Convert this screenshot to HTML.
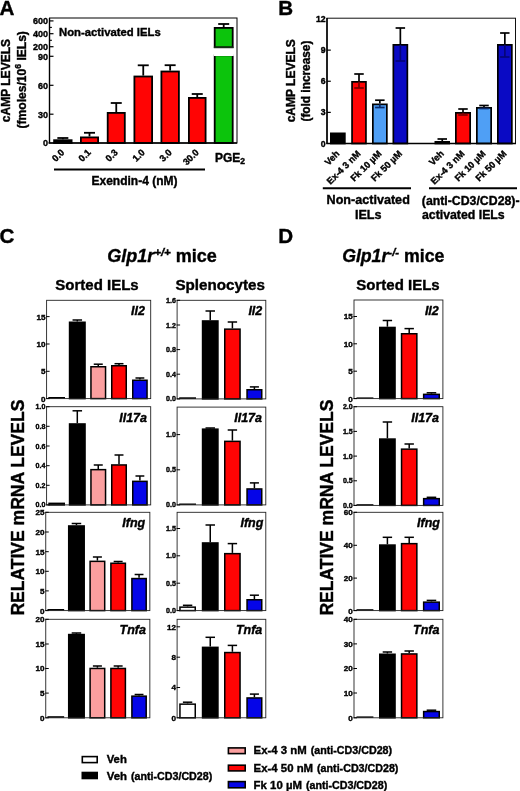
<!DOCTYPE html>
<html><head><meta charset="utf-8"><title>Figure</title>
<style>
html,body{margin:0;padding:0;background:#fff;}
body{width:520px;height:791px;overflow:hidden;}
svg{display:block;}
svg text{font-family:"Liberation Sans",sans-serif;font-weight:bold;fill:#000;stroke:#000;stroke-width:0.38px;}
</style></head><body>
<svg width="520" height="791" viewBox="0 0 520 791">
<rect width="520" height="791" fill="#fff"/>
<text x="-0.4" y="14.5" font-size="20.6" text-anchor="start" >A</text>
<line x1="62.85" y1="138" x2="62.85" y2="139.3" stroke="#000" stroke-width="1.8"/>
<line x1="57.35" y1="138" x2="68.35" y2="138" stroke="#000" stroke-width="1.8"/>
<rect x="54.10" y="140.20" width="17.50" height="2.80" fill="#000" stroke="#000" stroke-width="1.8"/>
<line x1="89.5" y1="132.8" x2="89.5" y2="136.5" stroke="#000" stroke-width="1.8"/>
<line x1="84.0" y1="132.8" x2="95.0" y2="132.8" stroke="#000" stroke-width="1.8"/>
<rect x="80.90" y="137.40" width="17.20" height="5.60" fill="#ff0404" stroke="#000" stroke-width="1.8"/>
<line x1="116.25" y1="103" x2="116.25" y2="112" stroke="#000" stroke-width="1.8"/>
<line x1="110.75" y1="103" x2="121.75" y2="103" stroke="#000" stroke-width="1.8"/>
<rect x="107.70" y="112.90" width="17.10" height="30.10" fill="#ff0404" stroke="#000" stroke-width="1.8"/>
<line x1="143.25" y1="65.3" x2="143.25" y2="75.6" stroke="#000" stroke-width="1.8"/>
<line x1="137.75" y1="65.3" x2="148.75" y2="65.3" stroke="#000" stroke-width="1.8"/>
<rect x="134.40" y="76.50" width="17.70" height="66.50" fill="#ff0404" stroke="#000" stroke-width="1.8"/>
<line x1="170.15" y1="65.2" x2="170.15" y2="70.6" stroke="#000" stroke-width="1.8"/>
<line x1="164.65" y1="65.2" x2="175.65" y2="65.2" stroke="#000" stroke-width="1.8"/>
<rect x="161.40" y="71.50" width="17.50" height="71.50" fill="#ff0404" stroke="#000" stroke-width="1.8"/>
<line x1="197.25" y1="94" x2="197.25" y2="97" stroke="#000" stroke-width="1.8"/>
<line x1="191.75" y1="94" x2="202.75" y2="94" stroke="#000" stroke-width="1.8"/>
<rect x="188.90" y="97.90" width="16.70" height="45.10" fill="#ff0404" stroke="#000" stroke-width="1.8"/>
<rect x="214.70" y="55.40" width="18.00" height="87.60" fill="#0cc40c" stroke="#000" stroke-width="1.8"/>
<rect x="215.60" y="54.00" width="16.20" height="2.50" fill="#0cc40c" stroke="none" stroke-width="0"/>
<rect x="213.80" y="50.00" width="20.00" height="6.00" fill="#fff" stroke="none" stroke-width="0"/>
<line x1="223.7" y1="24" x2="223.7" y2="27" stroke="#000" stroke-width="1.8"/>
<line x1="218.2" y1="24" x2="229.2" y2="24" stroke="#000" stroke-width="1.8"/>
<rect x="214.70" y="27.90" width="18.00" height="19.40" fill="#0cc40c" stroke="#000" stroke-width="1.8"/>
<rect x="213.80" y="46.60" width="19.80" height="1.20" fill="#1a3a1a" stroke="none" stroke-width="0"/>
<rect x="49.5" y="18" width="187.5" height="125" fill="none" stroke="#000" stroke-width="1"/>
<line x1="48.5" y1="143" x2="237" y2="143" stroke="#000" stroke-width="1.6"/>
<line x1="49.5" y1="18" x2="49.5" y2="143" stroke="#000" stroke-width="1.4"/>
<line x1="49.5" y1="20.9" x2="53.5" y2="20.9" stroke="#000" stroke-width="1.2"/>
<text x="48.0" y="24.2" font-size="9" text-anchor="end" >600</text>
<line x1="49.5" y1="33.7" x2="53.5" y2="33.7" stroke="#000" stroke-width="1.2"/>
<text x="48.0" y="37.0" font-size="9" text-anchor="end" >400</text>
<line x1="49.5" y1="46.7" x2="53.5" y2="46.7" stroke="#000" stroke-width="1.2"/>
<text x="48.0" y="50.0" font-size="9" text-anchor="end" >200</text>
<line x1="49.5" y1="56.3" x2="53.5" y2="56.3" stroke="#000" stroke-width="1.2"/>
<text x="48.0" y="59.599999999999994" font-size="9" text-anchor="end" >90</text>
<line x1="49.5" y1="85.3" x2="53.5" y2="85.3" stroke="#000" stroke-width="1.2"/>
<text x="48.0" y="88.6" font-size="9" text-anchor="end" >60</text>
<line x1="49.5" y1="114.2" x2="53.5" y2="114.2" stroke="#000" stroke-width="1.2"/>
<text x="48.0" y="117.5" font-size="9" text-anchor="end" >30</text>
<text x="48.0" y="146.3" font-size="9" text-anchor="end" >0</text>
<line x1="49.5" y1="27.4" x2="51.9" y2="27.4" stroke="#000" stroke-width="1.1"/>
<line x1="49.5" y1="40.3" x2="51.9" y2="40.3" stroke="#000" stroke-width="1.1"/>
<text x="59" y="35.9" font-size="11.3" text-anchor="start" >Non-activated IELs</text>
<text x="65" y="153" font-size="9.3" text-anchor="end" transform="rotate(-45 65 153)" >0.0</text>
<text x="91.5" y="153" font-size="9.3" text-anchor="end" transform="rotate(-45 91.5 153)" >0.1</text>
<text x="118.5" y="153" font-size="9.3" text-anchor="end" transform="rotate(-45 118.5 153)" >0.3</text>
<text x="145.5" y="153" font-size="9.3" text-anchor="end" transform="rotate(-45 145.5 153)" >1.0</text>
<text x="172.5" y="153" font-size="9.3" text-anchor="end" transform="rotate(-45 172.5 153)" >3.0</text>
<text x="199.5" y="153" font-size="9.3" text-anchor="end" transform="rotate(-45 199.5 153)" >30.0</text>
<line x1="54" y1="169.5" x2="205" y2="169.5" stroke="#000" stroke-width="2"/>
<text x="134.5" y="185" font-size="12" text-anchor="middle" >Exendin-4 (nM)</text>
<text x="215" y="161.5" font-size="12">PGE<tspan font-size="8.5" dy="2.5">2</tspan></text>
<text font-size="12" text-anchor="middle" transform="translate(9.6,80.6) rotate(-90)">cAMP LEVELS</text>
<text font-size="12.05" text-anchor="middle" transform="translate(26.3,79.8) rotate(-90)">(fmoles/10<tspan font-size="8.8" dy="-5.3">6</tspan><tspan dy="5.3"> IELs)</tspan></text>
<text x="278.3" y="14.6" font-size="20.6" text-anchor="start" >B</text>
<rect x="330.85" y="133.35" width="14.00" height="10.15" fill="#000" stroke="#000" stroke-width="1.7"/>
<line x1="359.0" y1="74" x2="359.0" y2="81" stroke="#000" stroke-width="1.7"/>
<line x1="354.25" y1="74" x2="363.75" y2="74" stroke="#000" stroke-width="1.7"/>
<rect x="352.05" y="81.85" width="13.90" height="61.65" fill="#ff0404" stroke="#000" stroke-width="1.7"/>
<line x1="359.0" y1="81.85" x2="359.0" y2="88" stroke="#7a0000" stroke-width="1.7"/>
<line x1="354.25" y1="88" x2="363.75" y2="88" stroke="#7a0000" stroke-width="1.7"/>
<line x1="379.85" y1="100.2" x2="379.85" y2="103.5" stroke="#000" stroke-width="1.7"/>
<line x1="375.1" y1="100.2" x2="384.6" y2="100.2" stroke="#000" stroke-width="1.7"/>
<rect x="372.85" y="104.35" width="14.00" height="39.15" fill="#4f9ff5" stroke="#000" stroke-width="1.7"/>
<line x1="379.85" y1="104.35" x2="379.85" y2="107.5" stroke="#0a2a6a" stroke-width="1.7"/>
<line x1="375.1" y1="107.5" x2="384.6" y2="107.5" stroke="#0a2a6a" stroke-width="1.7"/>
<line x1="400.35" y1="28" x2="400.35" y2="44" stroke="#000" stroke-width="1.7"/>
<line x1="395.6" y1="28" x2="405.1" y2="28" stroke="#000" stroke-width="1.7"/>
<rect x="393.35" y="44.85" width="14.00" height="98.65" fill="#0a0ac4" stroke="#000" stroke-width="1.7"/>
<line x1="400.35" y1="44.85" x2="400.35" y2="61" stroke="#05057a" stroke-width="1.7"/>
<line x1="395.6" y1="61" x2="405.1" y2="61" stroke="#05057a" stroke-width="1.7"/>
<line x1="442.25" y1="139" x2="442.25" y2="141" stroke="#000" stroke-width="1.7"/>
<line x1="437.5" y1="139" x2="447.0" y2="139" stroke="#000" stroke-width="1.7"/>
<rect x="435.35" y="141.85" width="13.80" height="1.65" fill="#000" stroke="#000" stroke-width="1.7"/>
<line x1="463.0" y1="109" x2="463.0" y2="112" stroke="#000" stroke-width="1.7"/>
<line x1="458.25" y1="109" x2="467.75" y2="109" stroke="#000" stroke-width="1.7"/>
<rect x="455.85" y="112.85" width="14.30" height="30.65" fill="#ff0404" stroke="#000" stroke-width="1.7"/>
<line x1="463.0" y1="112.85" x2="463.0" y2="115" stroke="#7a0000" stroke-width="1.7"/>
<line x1="458.25" y1="115" x2="467.75" y2="115" stroke="#7a0000" stroke-width="1.7"/>
<line x1="484.0" y1="105.5" x2="484.0" y2="107" stroke="#000" stroke-width="1.7"/>
<line x1="479.25" y1="105.5" x2="488.75" y2="105.5" stroke="#000" stroke-width="1.7"/>
<rect x="476.85" y="107.85" width="14.30" height="35.65" fill="#4f9ff5" stroke="#000" stroke-width="1.7"/>
<line x1="484.0" y1="107.85" x2="484.0" y2="108.5" stroke="#0a2a6a" stroke-width="1.7"/>
<line x1="479.25" y1="108.5" x2="488.75" y2="108.5" stroke="#0a2a6a" stroke-width="1.7"/>
<line x1="504.85" y1="33" x2="504.85" y2="44" stroke="#000" stroke-width="1.7"/>
<line x1="500.1" y1="33" x2="509.6" y2="33" stroke="#000" stroke-width="1.7"/>
<rect x="497.85" y="44.85" width="14.00" height="98.65" fill="#0a0ac4" stroke="#000" stroke-width="1.7"/>
<line x1="504.85" y1="44.85" x2="504.85" y2="57" stroke="#05057a" stroke-width="1.7"/>
<line x1="500.1" y1="57" x2="509.6" y2="57" stroke="#05057a" stroke-width="1.7"/>
<rect x="327" y="18.2" width="188.5" height="125.3" fill="none" stroke="#111" stroke-width="1"/>
<line x1="327" y1="18" x2="327" y2="143.5" stroke="#000" stroke-width="1.5"/>
<line x1="326.3" y1="143.5" x2="516" y2="143.5" stroke="#000" stroke-width="1.7"/>
<text x="325.6" y="146.6" font-size="8.7" text-anchor="end" >0</text>
<line x1="327" y1="112.375" x2="330.8" y2="112.375" stroke="#000" stroke-width="1.2"/>
<text x="325.6" y="115.475" font-size="8.7" text-anchor="end" >3</text>
<line x1="327" y1="81.25" x2="330.8" y2="81.25" stroke="#000" stroke-width="1.2"/>
<text x="325.6" y="84.35" font-size="8.7" text-anchor="end" >6</text>
<line x1="327" y1="50.125" x2="330.8" y2="50.125" stroke="#000" stroke-width="1.2"/>
<text x="325.6" y="53.225" font-size="8.7" text-anchor="end" >9</text>
<text x="325.6" y="22.1" font-size="8.7" text-anchor="end" >12</text>
<text x="340.15000000000003" y="154.2" font-size="9.3" text-anchor="end" transform="rotate(-45 340.15000000000003 154.2)" >Veh</text>
<text x="361.3" y="154.2" font-size="9.3" text-anchor="end" transform="rotate(-45 361.3 154.2)" >Ex-4 3 nM</text>
<text x="382.15000000000003" y="154.2" font-size="9.3" text-anchor="end" transform="rotate(-45 382.15000000000003 154.2)" >Fk 10 µM</text>
<text x="402.65000000000003" y="154.2" font-size="9.3" text-anchor="end" transform="rotate(-45 402.65000000000003 154.2)" >Fk 50 µM</text>
<text x="444.55" y="154.2" font-size="9.3" text-anchor="end" transform="rotate(-45 444.55 154.2)" >Veh</text>
<text x="465.3" y="154.2" font-size="9.3" text-anchor="end" transform="rotate(-45 465.3 154.2)" >Ex-4 3 nM</text>
<text x="486.3" y="154.2" font-size="9.3" text-anchor="end" transform="rotate(-45 486.3 154.2)" >Fk 10 µM</text>
<text x="507.15000000000003" y="154.2" font-size="9.3" text-anchor="end" transform="rotate(-45 507.15000000000003 154.2)" >Fk 50 µM</text>
<line x1="322.8" y1="188.3" x2="411" y2="188.3" stroke="#000" stroke-width="2"/>
<line x1="429" y1="188.2" x2="517" y2="188.2" stroke="#000" stroke-width="2"/>
<text x="368.2" y="204.4" font-size="12.6" text-anchor="middle" >Non-activated</text>
<text x="368.2" y="218.6" font-size="12.6" text-anchor="middle" >IELs</text>
<text x="421.8" y="204.7" font-size="12.3" text-anchor="start" >(anti-CD3/CD28)-</text>
<text x="422" y="218.9" font-size="12.3" text-anchor="start" >activated IELs</text>
<text font-size="12" text-anchor="middle" transform="translate(295.3,80.8) rotate(-90)">cAMP LEVELS</text>
<text font-size="11.85" text-anchor="middle" transform="translate(310.1,81.1) rotate(-90)">(fold increase)</text>
<text x="-0.4" y="243.1" font-size="20.6" text-anchor="start" >C</text>
<text x="162" y="262" font-size="18" text-anchor="middle"><tspan font-style="italic">Glp1r</tspan><tspan font-style="italic" font-size="11.5" dy="-6">+/+</tspan><tspan dy="6"> mice</tspan></text>
<text x="97" y="290" font-size="15" text-anchor="middle" >Sorted IELs</text>
<text x="220.2" y="290" font-size="15.2" text-anchor="middle" >Splenocytes</text>
<text font-size="17.5" text-anchor="middle" transform="translate(23.5,507.6) rotate(-90)">RELATIVE mRNA LEVELS</text>
<rect x="48.30" y="397.00" width="16.70" height="1.60" fill="#000" stroke="none" stroke-width="0"/>
<line x1="77.3" y1="320" x2="77.3" y2="321.5" stroke="#000" stroke-width="1.5"/>
<line x1="72.53999999999999" y1="320" x2="82.06" y2="320" stroke="#000" stroke-width="1.5"/>
<rect x="69.55" y="322.25" width="15.50" height="76.35" fill="#000" stroke="#000" stroke-width="1.5"/>
<line x1="98.25" y1="364.2" x2="98.25" y2="366" stroke="#000" stroke-width="1.5"/>
<line x1="93.742" y1="364.2" x2="102.758" y2="364.2" stroke="#000" stroke-width="1.5"/>
<rect x="90.95" y="366.75" width="14.60" height="31.85" fill="#fb9f9f" stroke="#000" stroke-width="1.5"/>
<line x1="119.0" y1="363.7" x2="119.0" y2="365" stroke="#000" stroke-width="1.5"/>
<line x1="114.52" y1="363.7" x2="123.48" y2="363.7" stroke="#000" stroke-width="1.5"/>
<rect x="111.75" y="365.75" width="14.50" height="32.85" fill="#ff0404" stroke="#000" stroke-width="1.5"/>
<line x1="139.9" y1="378" x2="139.9" y2="379.5" stroke="#000" stroke-width="1.5"/>
<line x1="135.476" y1="378" x2="144.324" y2="378" stroke="#000" stroke-width="1.5"/>
<rect x="132.75" y="380.25" width="14.30" height="18.35" fill="#0505e8" stroke="#000" stroke-width="1.5"/>
<rect x="46.6" y="300.3" width="104.1" height="98.30000000000001" fill="none" stroke="#222" stroke-width="0.9"/>
<line x1="46.1" y1="316.6" x2="49.6" y2="316.6" stroke="#000" stroke-width="1"/>
<text x="45.4" y="319.5" font-size="8.1" text-anchor="end" >15</text>
<line x1="46.1" y1="344" x2="49.6" y2="344" stroke="#000" stroke-width="1"/>
<text x="45.4" y="346.9" font-size="8.1" text-anchor="end" >10</text>
<line x1="46.1" y1="371.3" x2="49.6" y2="371.3" stroke="#000" stroke-width="1"/>
<text x="45.4" y="374.2" font-size="8.1" text-anchor="end" >5</text>
<line x1="46.1" y1="398.6" x2="49.6" y2="398.6" stroke="#000" stroke-width="1"/>
<text x="45.4" y="401.5" font-size="8.1" text-anchor="end" >0</text>
<text x="145" y="315" font-size="12.5" text-anchor="end" font-style="italic" >Il2</text>
<rect x="49.05" y="503.35" width="15.20" height="1.55" fill="#fff" stroke="#000" stroke-width="1.5"/>
<line x1="77.3" y1="410.8" x2="77.3" y2="423.2" stroke="#000" stroke-width="1.5"/>
<line x1="72.53999999999999" y1="410.8" x2="82.06" y2="410.8" stroke="#000" stroke-width="1.5"/>
<rect x="69.55" y="423.95" width="15.50" height="80.95" fill="#000" stroke="#000" stroke-width="1.5"/>
<line x1="98.25" y1="465" x2="98.25" y2="468.9" stroke="#000" stroke-width="1.5"/>
<line x1="93.742" y1="465" x2="102.758" y2="465" stroke="#000" stroke-width="1.5"/>
<rect x="90.95" y="469.65" width="14.60" height="35.25" fill="#fb9f9f" stroke="#000" stroke-width="1.5"/>
<line x1="119.0" y1="455" x2="119.0" y2="464.2" stroke="#000" stroke-width="1.5"/>
<line x1="114.52" y1="455" x2="123.48" y2="455" stroke="#000" stroke-width="1.5"/>
<rect x="111.75" y="464.95" width="14.50" height="39.95" fill="#ff0404" stroke="#000" stroke-width="1.5"/>
<line x1="139.9" y1="476" x2="139.9" y2="480.6" stroke="#000" stroke-width="1.5"/>
<line x1="135.476" y1="476" x2="144.324" y2="476" stroke="#000" stroke-width="1.5"/>
<rect x="132.75" y="481.35" width="14.30" height="23.55" fill="#0505e8" stroke="#000" stroke-width="1.5"/>
<rect x="46.6" y="406.7" width="104.1" height="98.19999999999999" fill="none" stroke="#222" stroke-width="0.9"/>
<line x1="46.1" y1="406.7" x2="49.6" y2="406.7" stroke="#000" stroke-width="1"/>
<text x="45.4" y="409.2" font-size="7.1" text-anchor="end" >1.0</text>
<line x1="46.1" y1="426.3" x2="49.6" y2="426.3" stroke="#000" stroke-width="1"/>
<text x="45.4" y="428.8" font-size="7.1" text-anchor="end" >0.8</text>
<line x1="46.1" y1="446" x2="49.6" y2="446" stroke="#000" stroke-width="1"/>
<text x="45.4" y="448.5" font-size="7.1" text-anchor="end" >0.6</text>
<line x1="46.1" y1="465.7" x2="49.6" y2="465.7" stroke="#000" stroke-width="1"/>
<text x="45.4" y="468.2" font-size="7.1" text-anchor="end" >0.4</text>
<line x1="46.1" y1="485.3" x2="49.6" y2="485.3" stroke="#000" stroke-width="1"/>
<text x="45.4" y="487.8" font-size="7.1" text-anchor="end" >0.2</text>
<line x1="46.1" y1="504.9" x2="49.6" y2="504.9" stroke="#000" stroke-width="1"/>
<text x="45.4" y="507.4" font-size="7.1" text-anchor="end" >0.0</text>
<text x="147" y="421.5" font-size="12.5" text-anchor="end" font-style="italic" >Il17a</text>
<rect x="47.45" y="609.00" width="16.70" height="1.60" fill="#000" stroke="none" stroke-width="0"/>
<line x1="76.45" y1="523.5" x2="76.45" y2="525.2" stroke="#000" stroke-width="1.5"/>
<line x1="71.69" y1="523.5" x2="81.21000000000001" y2="523.5" stroke="#000" stroke-width="1.5"/>
<rect x="68.70" y="525.95" width="15.50" height="84.65" fill="#000" stroke="#000" stroke-width="1.5"/>
<line x1="97.4" y1="557" x2="97.4" y2="560.6" stroke="#000" stroke-width="1.5"/>
<line x1="92.89200000000001" y1="557" x2="101.908" y2="557" stroke="#000" stroke-width="1.5"/>
<rect x="90.10" y="561.35" width="14.60" height="49.25" fill="#fb9f9f" stroke="#000" stroke-width="1.5"/>
<line x1="118.15" y1="561.5" x2="118.15" y2="562.5" stroke="#000" stroke-width="1.5"/>
<line x1="113.67" y1="561.5" x2="122.63000000000001" y2="561.5" stroke="#000" stroke-width="1.5"/>
<rect x="110.90" y="563.25" width="14.50" height="47.35" fill="#ff0404" stroke="#000" stroke-width="1.5"/>
<line x1="139.05" y1="574.5" x2="139.05" y2="577.8" stroke="#000" stroke-width="1.5"/>
<line x1="134.626" y1="574.5" x2="143.47400000000002" y2="574.5" stroke="#000" stroke-width="1.5"/>
<rect x="131.90" y="578.55" width="14.30" height="32.05" fill="#0505e8" stroke="#000" stroke-width="1.5"/>
<rect x="45.75" y="512.3" width="104.1" height="98.30000000000007" fill="none" stroke="#222" stroke-width="0.9"/>
<line x1="45.25" y1="512.3" x2="48.75" y2="512.3" stroke="#000" stroke-width="1"/>
<text x="44.55" y="515.1999999999999" font-size="8.1" text-anchor="end" >25</text>
<line x1="45.25" y1="532" x2="48.75" y2="532" stroke="#000" stroke-width="1"/>
<text x="44.55" y="534.9" font-size="8.1" text-anchor="end" >20</text>
<line x1="45.25" y1="551.7" x2="48.75" y2="551.7" stroke="#000" stroke-width="1"/>
<text x="44.55" y="554.6" font-size="8.1" text-anchor="end" >15</text>
<line x1="45.25" y1="571.3" x2="48.75" y2="571.3" stroke="#000" stroke-width="1"/>
<text x="44.55" y="574.1999999999999" font-size="8.1" text-anchor="end" >10</text>
<line x1="45.25" y1="590.9" x2="48.75" y2="590.9" stroke="#000" stroke-width="1"/>
<text x="44.55" y="593.8" font-size="8.1" text-anchor="end" >5</text>
<line x1="45.25" y1="610.6" x2="48.75" y2="610.6" stroke="#000" stroke-width="1"/>
<text x="44.55" y="613.5" font-size="8.1" text-anchor="end" >0</text>
<text x="145.2" y="526.7" font-size="12.5" text-anchor="end" font-style="italic" >Ifng</text>
<rect x="47.45" y="716.20" width="16.70" height="1.60" fill="#000" stroke="none" stroke-width="0"/>
<line x1="76.45" y1="633" x2="76.45" y2="633.8" stroke="#000" stroke-width="1.5"/>
<line x1="71.69" y1="633" x2="81.21000000000001" y2="633" stroke="#000" stroke-width="1.5"/>
<rect x="68.70" y="634.55" width="15.50" height="83.25" fill="#000" stroke="#000" stroke-width="1.5"/>
<line x1="97.4" y1="666" x2="97.4" y2="667.7" stroke="#000" stroke-width="1.5"/>
<line x1="92.89200000000001" y1="666" x2="101.908" y2="666" stroke="#000" stroke-width="1.5"/>
<rect x="90.10" y="668.45" width="14.60" height="49.35" fill="#fb9f9f" stroke="#000" stroke-width="1.5"/>
<line x1="118.15" y1="666" x2="118.15" y2="667.7" stroke="#000" stroke-width="1.5"/>
<line x1="113.67" y1="666" x2="122.63000000000001" y2="666" stroke="#000" stroke-width="1.5"/>
<rect x="110.90" y="668.45" width="14.50" height="49.35" fill="#ff0404" stroke="#000" stroke-width="1.5"/>
<line x1="139.05" y1="694.5" x2="139.05" y2="695.4" stroke="#000" stroke-width="1.5"/>
<line x1="134.626" y1="694.5" x2="143.47400000000002" y2="694.5" stroke="#000" stroke-width="1.5"/>
<rect x="131.90" y="696.15" width="14.30" height="21.65" fill="#0505e8" stroke="#000" stroke-width="1.5"/>
<rect x="45.75" y="619.3" width="104.1" height="98.5" fill="none" stroke="#222" stroke-width="0.9"/>
<line x1="45.25" y1="619.3" x2="48.75" y2="619.3" stroke="#000" stroke-width="1"/>
<text x="44.55" y="622.1999999999999" font-size="8.1" text-anchor="end" >20</text>
<line x1="45.25" y1="644" x2="48.75" y2="644" stroke="#000" stroke-width="1"/>
<text x="44.55" y="646.9" font-size="8.1" text-anchor="end" >15</text>
<line x1="45.25" y1="668.5" x2="48.75" y2="668.5" stroke="#000" stroke-width="1"/>
<text x="44.55" y="671.4" font-size="8.1" text-anchor="end" >10</text>
<line x1="45.25" y1="693.1" x2="48.75" y2="693.1" stroke="#000" stroke-width="1"/>
<text x="44.55" y="696.0" font-size="8.1" text-anchor="end" >5</text>
<line x1="45.25" y1="717.8" x2="48.75" y2="717.8" stroke="#000" stroke-width="1"/>
<text x="44.55" y="720.6999999999999" font-size="8.1" text-anchor="end" >0</text>
<text x="145.9" y="633.7" font-size="12.5" text-anchor="end" font-style="italic" >Tnfa</text>
<rect x="179.20" y="397.30" width="16.80" height="1.60" fill="#000" stroke="none" stroke-width="0"/>
<line x1="210.25" y1="311" x2="210.25" y2="320.2" stroke="#000" stroke-width="1.5"/>
<line x1="205.518" y1="311" x2="214.982" y2="311" stroke="#000" stroke-width="1.5"/>
<rect x="202.55" y="320.95" width="15.40" height="77.95" fill="#000" stroke="#000" stroke-width="1.5"/>
<line x1="232.4" y1="322" x2="232.4" y2="328.4" stroke="#000" stroke-width="1.5"/>
<line x1="227.696" y1="322" x2="237.104" y2="322" stroke="#000" stroke-width="1.5"/>
<rect x="224.75" y="329.15" width="15.30" height="69.75" fill="#ff0404" stroke="#000" stroke-width="1.5"/>
<line x1="254.4" y1="386.9" x2="254.4" y2="389" stroke="#000" stroke-width="1.5"/>
<line x1="249.864" y1="386.9" x2="258.936" y2="386.9" stroke="#000" stroke-width="1.5"/>
<rect x="247.05" y="389.75" width="14.70" height="9.15" fill="#0505e8" stroke="#000" stroke-width="1.5"/>
<rect x="177.1" y="300.3" width="88.70000000000002" height="98.60000000000002" fill="none" stroke="#222" stroke-width="0.9"/>
<line x1="176.6" y1="300.3" x2="180.1" y2="300.3" stroke="#000" stroke-width="1"/>
<text x="175.9" y="302.8" font-size="7.1" text-anchor="end" >1.6</text>
<line x1="176.6" y1="325" x2="180.1" y2="325" stroke="#000" stroke-width="1"/>
<text x="175.9" y="327.5" font-size="7.1" text-anchor="end" >1.2</text>
<line x1="176.6" y1="349.6" x2="180.1" y2="349.6" stroke="#000" stroke-width="1"/>
<text x="175.9" y="352.1" font-size="7.1" text-anchor="end" >0.8</text>
<line x1="176.6" y1="374.2" x2="180.1" y2="374.2" stroke="#000" stroke-width="1"/>
<text x="175.9" y="376.7" font-size="7.1" text-anchor="end" >0.4</text>
<line x1="176.6" y1="398.90000000000003" x2="180.1" y2="398.90000000000003" stroke="#000" stroke-width="1"/>
<text x="175.9" y="401.40000000000003" font-size="7.1" text-anchor="end" >0.0</text>
<text x="262.3" y="315" font-size="12.5" text-anchor="end" font-style="italic" >Il2</text>
<rect x="179.20" y="503.50" width="16.80" height="1.40" fill="#000" stroke="none" stroke-width="0"/>
<line x1="210.25" y1="428" x2="210.25" y2="428.4" stroke="#000" stroke-width="1.5"/>
<line x1="205.518" y1="428" x2="214.982" y2="428" stroke="#000" stroke-width="1.5"/>
<rect x="202.55" y="429.15" width="15.40" height="75.75" fill="#000" stroke="#000" stroke-width="1.5"/>
<line x1="232.4" y1="430" x2="232.4" y2="440.6" stroke="#000" stroke-width="1.5"/>
<line x1="227.696" y1="430" x2="237.104" y2="430" stroke="#000" stroke-width="1.5"/>
<rect x="224.75" y="441.35" width="15.30" height="63.55" fill="#ff0404" stroke="#000" stroke-width="1.5"/>
<line x1="254.4" y1="482.9" x2="254.4" y2="488.2" stroke="#000" stroke-width="1.5"/>
<line x1="249.864" y1="482.9" x2="258.936" y2="482.9" stroke="#000" stroke-width="1.5"/>
<rect x="247.05" y="488.95" width="14.70" height="15.95" fill="#0505e8" stroke="#000" stroke-width="1.5"/>
<rect x="177.1" y="407.09999999999997" width="88.70000000000002" height="97.80000000000001" fill="none" stroke="#222" stroke-width="0.9"/>
<line x1="176.6" y1="434.6" x2="180.1" y2="434.6" stroke="#000" stroke-width="1"/>
<text x="175.9" y="437.1" font-size="7.1" text-anchor="end" >1.0</text>
<line x1="176.6" y1="469.8" x2="180.1" y2="469.8" stroke="#000" stroke-width="1"/>
<text x="175.9" y="472.3" font-size="7.1" text-anchor="end" >0.5</text>
<line x1="176.6" y1="504.9" x2="180.1" y2="504.9" stroke="#000" stroke-width="1"/>
<text x="175.9" y="507.4" font-size="7.1" text-anchor="end" >0.0</text>
<text x="262" y="421.5" font-size="12.5" text-anchor="end" font-style="italic" >Il17a</text>
<line x1="187.6" y1="605.3" x2="187.6" y2="606.4" stroke="#000" stroke-width="1.5"/>
<line x1="182.896" y1="605.3" x2="192.304" y2="605.3" stroke="#000" stroke-width="1.5"/>
<rect x="179.95" y="607.15" width="15.30" height="3.45" fill="#fff" stroke="#000" stroke-width="1.5"/>
<line x1="210.25" y1="525" x2="210.25" y2="542.2" stroke="#000" stroke-width="1.5"/>
<line x1="205.518" y1="525" x2="214.982" y2="525" stroke="#000" stroke-width="1.5"/>
<rect x="202.55" y="542.95" width="15.40" height="67.65" fill="#000" stroke="#000" stroke-width="1.5"/>
<line x1="232.4" y1="543.6" x2="232.4" y2="552.9" stroke="#000" stroke-width="1.5"/>
<line x1="227.696" y1="543.6" x2="237.104" y2="543.6" stroke="#000" stroke-width="1.5"/>
<rect x="224.75" y="553.65" width="15.30" height="56.95" fill="#ff0404" stroke="#000" stroke-width="1.5"/>
<line x1="254.4" y1="595.2" x2="254.4" y2="599" stroke="#000" stroke-width="1.5"/>
<line x1="249.864" y1="595.2" x2="258.936" y2="595.2" stroke="#000" stroke-width="1.5"/>
<rect x="247.05" y="599.75" width="14.70" height="10.85" fill="#0505e8" stroke="#000" stroke-width="1.5"/>
<rect x="177.1" y="512.3" width="88.70000000000002" height="98.30000000000007" fill="none" stroke="#222" stroke-width="0.9"/>
<line x1="176.6" y1="528.5" x2="180.1" y2="528.5" stroke="#000" stroke-width="1"/>
<text x="175.9" y="531.0" font-size="7.1" text-anchor="end" >1.5</text>
<line x1="176.6" y1="555.8" x2="180.1" y2="555.8" stroke="#000" stroke-width="1"/>
<text x="175.9" y="558.3" font-size="7.1" text-anchor="end" >1.0</text>
<line x1="176.6" y1="583.2" x2="180.1" y2="583.2" stroke="#000" stroke-width="1"/>
<text x="175.9" y="585.7" font-size="7.1" text-anchor="end" >0.5</text>
<line x1="176.6" y1="610.6" x2="180.1" y2="610.6" stroke="#000" stroke-width="1"/>
<text x="175.9" y="613.1" font-size="7.1" text-anchor="end" >0.0</text>
<text x="263.4" y="526.7" font-size="12.5" text-anchor="end" font-style="italic" >Ifng</text>
<line x1="187.6" y1="702.2" x2="187.6" y2="703.4" stroke="#000" stroke-width="1.5"/>
<line x1="182.896" y1="702.2" x2="192.304" y2="702.2" stroke="#000" stroke-width="1.5"/>
<rect x="179.95" y="704.15" width="15.30" height="13.65" fill="#fff" stroke="#000" stroke-width="1.5"/>
<line x1="210.25" y1="637.3" x2="210.25" y2="646.6" stroke="#000" stroke-width="1.5"/>
<line x1="205.518" y1="637.3" x2="214.982" y2="637.3" stroke="#000" stroke-width="1.5"/>
<rect x="202.55" y="647.35" width="15.40" height="70.45" fill="#000" stroke="#000" stroke-width="1.5"/>
<line x1="232.4" y1="645.4" x2="232.4" y2="651.8" stroke="#000" stroke-width="1.5"/>
<line x1="227.696" y1="645.4" x2="237.104" y2="645.4" stroke="#000" stroke-width="1.5"/>
<rect x="224.75" y="652.55" width="15.30" height="65.25" fill="#ff0404" stroke="#000" stroke-width="1.5"/>
<line x1="254.4" y1="694.1" x2="254.4" y2="697.2" stroke="#000" stroke-width="1.5"/>
<line x1="249.864" y1="694.1" x2="258.936" y2="694.1" stroke="#000" stroke-width="1.5"/>
<rect x="247.05" y="697.95" width="14.70" height="19.85" fill="#0505e8" stroke="#000" stroke-width="1.5"/>
<rect x="177.1" y="619.3" width="88.70000000000002" height="98.5" fill="none" stroke="#222" stroke-width="0.9"/>
<line x1="176.6" y1="626.8" x2="180.1" y2="626.8" stroke="#000" stroke-width="1"/>
<text x="175.9" y="629.6999999999999" font-size="8.1" text-anchor="end" >12</text>
<line x1="176.6" y1="657.2" x2="180.1" y2="657.2" stroke="#000" stroke-width="1"/>
<text x="175.9" y="660.1" font-size="8.1" text-anchor="end" >8</text>
<line x1="176.6" y1="687.5" x2="180.1" y2="687.5" stroke="#000" stroke-width="1"/>
<text x="175.9" y="690.4" font-size="8.1" text-anchor="end" >4</text>
<line x1="176.6" y1="717.8" x2="180.1" y2="717.8" stroke="#000" stroke-width="1"/>
<text x="175.9" y="720.6999999999999" font-size="8.1" text-anchor="end" >0</text>
<text x="262.3" y="633.7" font-size="12.5" text-anchor="end" font-style="italic" >Tnfa</text>
<text x="278.3" y="242.9" font-size="20.6" text-anchor="start" >D</text>
<text x="393.3" y="261.5" font-size="17.7" text-anchor="middle"><tspan font-style="italic">Glp1r</tspan><tspan font-style="italic" font-size="11.5" dy="-6">-/-</tspan><tspan dy="6"> mice</tspan></text>
<text x="398" y="290" font-size="15" text-anchor="middle" >Sorted IELs</text>
<text font-size="17.5" text-anchor="middle" transform="translate(332.6,507.6) rotate(-90)">RELATIVE mRNA LEVELS</text>
<rect x="356.50" y="397.40" width="16.90" height="1.20" fill="#000" stroke="none" stroke-width="0"/>
<line x1="387.4" y1="320.5" x2="387.4" y2="326.7" stroke="#000" stroke-width="1.5"/>
<line x1="382.69599999999997" y1="320.5" x2="392.104" y2="320.5" stroke="#000" stroke-width="1.5"/>
<rect x="379.75" y="327.45" width="15.30" height="71.15" fill="#000" stroke="#000" stroke-width="1.5"/>
<line x1="409.20000000000005" y1="328.6" x2="409.20000000000005" y2="333" stroke="#000" stroke-width="1.5"/>
<line x1="404.49600000000004" y1="328.6" x2="413.90400000000005" y2="328.6" stroke="#000" stroke-width="1.5"/>
<rect x="401.55" y="333.75" width="15.30" height="64.85" fill="#ff0404" stroke="#000" stroke-width="1.5"/>
<line x1="431.45" y1="392.8" x2="431.45" y2="393.6" stroke="#000" stroke-width="1.5"/>
<line x1="426.662" y1="392.8" x2="436.238" y2="392.8" stroke="#000" stroke-width="1.5"/>
<rect x="423.65" y="394.35" width="15.60" height="4.25" fill="#0505e8" stroke="#000" stroke-width="1.5"/>
<rect x="354" y="300.0" width="88.89999999999998" height="98.60000000000002" fill="none" stroke="#222" stroke-width="0.9"/>
<line x1="353.5" y1="316.5" x2="357" y2="316.5" stroke="#000" stroke-width="1"/>
<text x="352.8" y="319.4" font-size="8.1" text-anchor="end" >15</text>
<line x1="353.5" y1="343.8" x2="357" y2="343.8" stroke="#000" stroke-width="1"/>
<text x="352.8" y="346.7" font-size="8.1" text-anchor="end" >10</text>
<line x1="353.5" y1="371.2" x2="357" y2="371.2" stroke="#000" stroke-width="1"/>
<text x="352.8" y="374.09999999999997" font-size="8.1" text-anchor="end" >5</text>
<line x1="353.5" y1="398.6" x2="357" y2="398.6" stroke="#000" stroke-width="1"/>
<text x="352.8" y="401.5" font-size="8.1" text-anchor="end" >0</text>
<text x="438.8" y="314.6" font-size="12.5" text-anchor="end" font-style="italic" >Il2</text>
<rect x="356.50" y="504.20" width="16.90" height="1.20" fill="#000" stroke="none" stroke-width="0"/>
<line x1="387.4" y1="422" x2="387.4" y2="438.3" stroke="#000" stroke-width="1.5"/>
<line x1="382.69599999999997" y1="422" x2="392.104" y2="422" stroke="#000" stroke-width="1.5"/>
<rect x="379.75" y="439.05" width="15.30" height="66.35" fill="#000" stroke="#000" stroke-width="1.5"/>
<line x1="409.20000000000005" y1="444" x2="409.20000000000005" y2="448.4" stroke="#000" stroke-width="1.5"/>
<line x1="404.49600000000004" y1="444" x2="413.90400000000005" y2="444" stroke="#000" stroke-width="1.5"/>
<rect x="401.55" y="449.15" width="15.30" height="56.25" fill="#ff0404" stroke="#000" stroke-width="1.5"/>
<line x1="431.45" y1="497.3" x2="431.45" y2="497.9" stroke="#000" stroke-width="1.5"/>
<line x1="426.662" y1="497.3" x2="436.238" y2="497.3" stroke="#000" stroke-width="1.5"/>
<rect x="423.65" y="498.65" width="15.60" height="6.75" fill="#0505e8" stroke="#000" stroke-width="1.5"/>
<rect x="354" y="406.7" width="88.89999999999998" height="98.69999999999999" fill="none" stroke="#222" stroke-width="0.9"/>
<line x1="353.5" y1="406.7" x2="357" y2="406.7" stroke="#000" stroke-width="1"/>
<text x="352.8" y="409.2" font-size="7.1" text-anchor="end" >2.0</text>
<line x1="353.5" y1="431.4" x2="357" y2="431.4" stroke="#000" stroke-width="1"/>
<text x="352.8" y="433.9" font-size="7.1" text-anchor="end" >1.5</text>
<line x1="353.5" y1="456.1" x2="357" y2="456.1" stroke="#000" stroke-width="1"/>
<text x="352.8" y="458.6" font-size="7.1" text-anchor="end" >1.0</text>
<line x1="353.5" y1="480.8" x2="357" y2="480.8" stroke="#000" stroke-width="1"/>
<text x="352.8" y="483.3" font-size="7.1" text-anchor="end" >0.5</text>
<line x1="353.5" y1="505.4" x2="357" y2="505.4" stroke="#000" stroke-width="1"/>
<text x="352.8" y="507.9" font-size="7.1" text-anchor="end" >0.0</text>
<text x="439" y="421.5" font-size="12.5" text-anchor="end" font-style="italic" >Il17a</text>
<rect x="356.50" y="609.20" width="16.90" height="1.40" fill="#000" stroke="none" stroke-width="0"/>
<line x1="387.4" y1="537.3" x2="387.4" y2="544.3" stroke="#000" stroke-width="1.5"/>
<line x1="382.69599999999997" y1="537.3" x2="392.104" y2="537.3" stroke="#000" stroke-width="1.5"/>
<rect x="379.75" y="545.05" width="15.30" height="65.55" fill="#000" stroke="#000" stroke-width="1.5"/>
<line x1="409.20000000000005" y1="537.3" x2="409.20000000000005" y2="542.9" stroke="#000" stroke-width="1.5"/>
<line x1="404.49600000000004" y1="537.3" x2="413.90400000000005" y2="537.3" stroke="#000" stroke-width="1.5"/>
<rect x="401.55" y="543.65" width="15.30" height="66.95" fill="#ff0404" stroke="#000" stroke-width="1.5"/>
<line x1="431.45" y1="600.4" x2="431.45" y2="601.4" stroke="#000" stroke-width="1.5"/>
<line x1="426.662" y1="600.4" x2="436.238" y2="600.4" stroke="#000" stroke-width="1.5"/>
<rect x="423.65" y="602.15" width="15.60" height="8.45" fill="#0505e8" stroke="#000" stroke-width="1.5"/>
<rect x="354" y="512.3" width="88.89999999999998" height="98.30000000000007" fill="none" stroke="#222" stroke-width="0.9"/>
<line x1="353.5" y1="512.3" x2="357" y2="512.3" stroke="#000" stroke-width="1"/>
<text x="352.8" y="515.1999999999999" font-size="8.1" text-anchor="end" >60</text>
<line x1="353.5" y1="545.3" x2="357" y2="545.3" stroke="#000" stroke-width="1"/>
<text x="352.8" y="548.1999999999999" font-size="8.1" text-anchor="end" >40</text>
<line x1="353.5" y1="578.1" x2="357" y2="578.1" stroke="#000" stroke-width="1"/>
<text x="352.8" y="581.0" font-size="8.1" text-anchor="end" >20</text>
<line x1="353.5" y1="610.6" x2="357" y2="610.6" stroke="#000" stroke-width="1"/>
<text x="352.8" y="613.5" font-size="8.1" text-anchor="end" >0</text>
<text x="440" y="526.7" font-size="12.5" text-anchor="end" font-style="italic" >Ifng</text>
<rect x="356.50" y="716.40" width="16.90" height="1.40" fill="#000" stroke="none" stroke-width="0"/>
<line x1="387.4" y1="652" x2="387.4" y2="653.5" stroke="#000" stroke-width="1.5"/>
<line x1="382.69599999999997" y1="652" x2="392.104" y2="652" stroke="#000" stroke-width="1.5"/>
<rect x="379.75" y="654.25" width="15.30" height="63.55" fill="#000" stroke="#000" stroke-width="1.5"/>
<line x1="409.20000000000005" y1="651" x2="409.20000000000005" y2="653.2" stroke="#000" stroke-width="1.5"/>
<line x1="404.49600000000004" y1="651" x2="413.90400000000005" y2="651" stroke="#000" stroke-width="1.5"/>
<rect x="401.55" y="653.95" width="15.30" height="63.85" fill="#ff0404" stroke="#000" stroke-width="1.5"/>
<line x1="431.45" y1="710.2" x2="431.45" y2="710.8" stroke="#000" stroke-width="1.5"/>
<line x1="426.662" y1="710.2" x2="436.238" y2="710.2" stroke="#000" stroke-width="1.5"/>
<rect x="423.65" y="711.55" width="15.60" height="6.25" fill="#0505e8" stroke="#000" stroke-width="1.5"/>
<rect x="354" y="619.3" width="88.89999999999998" height="98.5" fill="none" stroke="#222" stroke-width="0.9"/>
<line x1="353.5" y1="619.3" x2="357" y2="619.3" stroke="#000" stroke-width="1"/>
<text x="352.8" y="622.1999999999999" font-size="8.1" text-anchor="end" >40</text>
<line x1="353.5" y1="643.9" x2="357" y2="643.9" stroke="#000" stroke-width="1"/>
<text x="352.8" y="646.8" font-size="8.1" text-anchor="end" >30</text>
<line x1="353.5" y1="668.5" x2="357" y2="668.5" stroke="#000" stroke-width="1"/>
<text x="352.8" y="671.4" font-size="8.1" text-anchor="end" >20</text>
<line x1="353.5" y1="693" x2="357" y2="693" stroke="#000" stroke-width="1"/>
<text x="352.8" y="695.9" font-size="8.1" text-anchor="end" >10</text>
<line x1="353.5" y1="717.8" x2="357" y2="717.8" stroke="#000" stroke-width="1"/>
<text x="352.8" y="720.6999999999999" font-size="8.1" text-anchor="end" >0</text>
<text x="439.4" y="633.7" font-size="12.5" text-anchor="end" font-style="italic" >Tnfa</text>
<rect x="82.30" y="756.60" width="14.90" height="6.00" fill="#fff" stroke="#000" stroke-width="1.6"/>
<text x="106.7" y="763.4" font-size="11.3" text-anchor="start" >Veh</text>
<rect x="82.30" y="772.50" width="14.90" height="6.00" fill="#000" stroke="#000" stroke-width="1.6"/>
<text x="106.7" y="780" font-size="11.4" text-anchor="start" >Veh <tspan font-size="10.7" dx="0.8">(anti-CD3/CD28)</tspan></text>
<rect x="228.40" y="747.90" width="16.80" height="5.70" fill="#fb9f9f" stroke="#000" stroke-width="1.6"/>
<text x="253.6" y="754.4" font-size="11.4" text-anchor="start" >Ex-4 3 nM <tspan font-size="10.7" dx="0.8">(anti-CD3/CD28)</tspan></text>
<rect x="228.40" y="765.20" width="16.80" height="5.70" fill="#ff0404" stroke="#000" stroke-width="1.6"/>
<text x="253.6" y="771.7" font-size="11.4" text-anchor="start" >Ex-4 50 nM <tspan font-size="10.7" dx="0.8">(anti-CD3/CD28)</tspan></text>
<rect x="228.40" y="781.60" width="16.80" height="6.20" fill="#0505e8" stroke="#000" stroke-width="1.6"/>
<text x="253.6" y="788.7" font-size="11.4" text-anchor="start" >Fk 10 µM <tspan font-size="10.7" dx="0.8">(anti-CD3/CD28)</tspan></text>
</svg>
</body></html>
